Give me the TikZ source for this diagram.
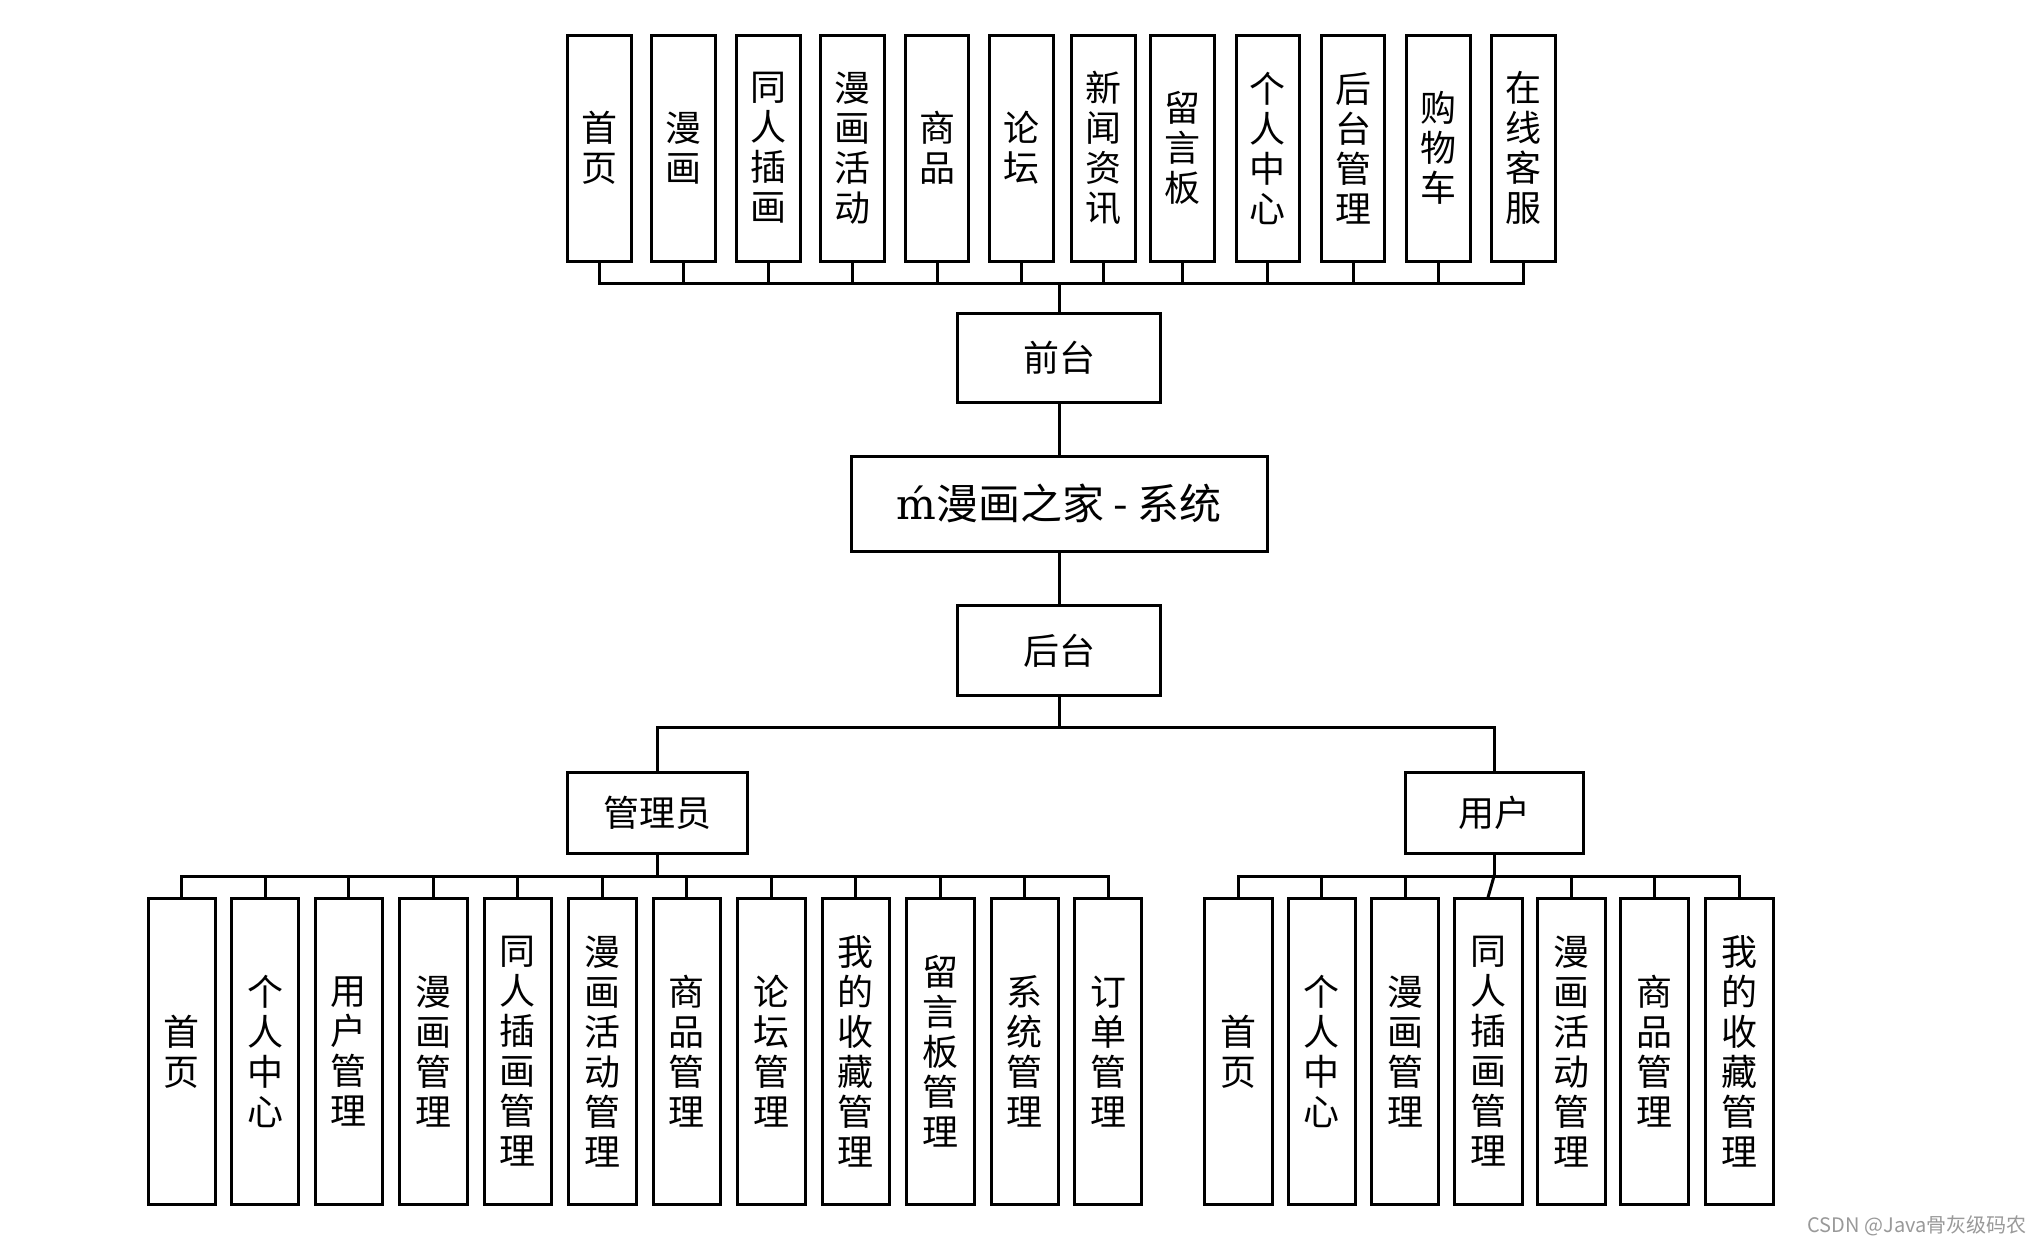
\documentclass[tikz,border=0pt]{standalone}
\usepackage{fontspec}
\setmainfont{Noto Sans CJK SC}
\newfontfamily\cjk{Noto Sans CJK SC}
\newfontfamily\latinserif{DejaVu Serif}
\newdimen\uu \uu=0.64985pt
\begin{document}
\begin{tikzpicture}[x=\uu, y=-\uu,
  box/.style={draw, line width=1.5pt, inner sep=0pt, align=center, font=\cjk\fontsize{18pt}{20pt}\selectfont},
  vtop/.style={box, minimum width=49*\uu, minimum height=174*\uu},
  vbot/.style={box, minimum width=52*\uu, minimum height=236*\uu},
  hbox/.style={box, minimum width=156*\uu, minimum height=69*\uu},
  link/.style={line width=1.5pt, line cap=rect}]
\useasboundingbox[fill=white] (0,0) rectangle (1568,958.8);

% top row
\foreach \cx/\txt [count=\i] in {461/{首\\页}, 526/{漫\\画}, 591/{同\\人\\插\\画}, 656/{漫\\画\\活\\动}, 721/{商\\品}, 786/{论\\坛}, 849/{新\\闻\\资\\讯}, 910/{留\\言\\板}, 975.5/{个\\人\\中\\心}, 1041/{后\\台\\管\\理}, 1107/{购\\物\\车}, 1172/{在\\线\\客\\服}}
  \node[vtop] (t\i) at (\cx,114) {\txt};

\node[hbox] (front) at (815,275.5) {前台};
\node[box, minimum width=320*\uu, minimum height=73*\uu, font=\cjk\fontsize{21pt}{23pt}\selectfont] (sys) at (815,387.5) {{\latinserif ḿ}漫画之家 - 系统};
\node[hbox] (back) at (815,500.5) {后台};
\node[box, minimum width=138*\uu, minimum height=63*\uu] (admin) at (506,625.5) {管理员};
\node[box, minimum width=137*\uu, minimum height=63*\uu] (user) at (1149.5,625.5) {用户};

% admin row
\foreach \cx/\txt [count=\i] in {140/{首\\页}, 204/{个\\人\\中\\心}, 268.5/{用\\户\\管\\理}, 333.5/{漫\\画\\管\\理}, 398.5/{同\\人\\插\\画\\管\\理}, 463.5/{漫\\画\\活\\动\\管\\理}, 528.5/{商\\品\\管\\理}, 593.5/{论\\坛\\管\\理}, 658.5/{我\\的\\收\\藏\\管\\理}, 723.5/{留\\言\\板\\管\\理}, 788.5/{系\\统\\管\\理}, 852.5/{订\\单\\管\\理}}
  \node[vbot] (a\i) at (\cx,809) {\txt};

% user row
\foreach \cx/\txt [count=\i] in {953/{首\\页}, 1017/{个\\人\\中\\心}, 1081/{漫\\画\\管\\理}, 1145/{同\\人\\插\\画\\管\\理}, 1209/{漫\\画\\活\\动\\管\\理}, 1273/{商\\品\\管\\理}, 1338.5/{我\\的\\收\\藏\\管\\理}}
  \node[vbot] (u\i) at (\cx,809) {\txt};

% top bus
\coordinate (tb) at (815,218);
\foreach \i in {1,...,12} \draw[link] (t\i.south) -- (t\i.south |- tb);
\draw[link] (t1.south |- tb) -- (t12.south |- tb);
\draw[link] (front.north) -- (front.north |- tb);

\draw[link] (front) -- (sys);
\draw[link] (sys) -- (back);

% branch
\coordinate (br) at (815,560);
\draw[link] (back.south) -- (back.south |- br);
\draw[link] (admin.north) -- (admin.north |- br) -- (user.north |- br) -- (user.north);

% admin bus
\coordinate (ab) at (506,674);
\draw[link] (admin.south) -- (admin.south |- ab);
\draw[link] (a1.north |- ab) -- (a12.north |- ab);
\foreach \i in {1,...,12} \draw[link] (a\i.north) -- (a\i.north |- ab);

% user bus
\coordinate (ub) at (1149.5,674);
\draw[link] (user.south) -- (user.south |- ub);
\draw[link] (u1.north |- ub) -- (u7.north |- ub);
\foreach \i in {1,2,3,5,6,7} \draw[link] (u\i.north) -- (u\i.north |- ub);
\draw[link] (ub) -- (u4.north);

\node[text=black!40, font=\cjk\fontsize{10pt}{12pt}\selectfont] (wm) at (1475,943) {CSDN @Java骨灰级码农};
\end{tikzpicture}
\end{document}
